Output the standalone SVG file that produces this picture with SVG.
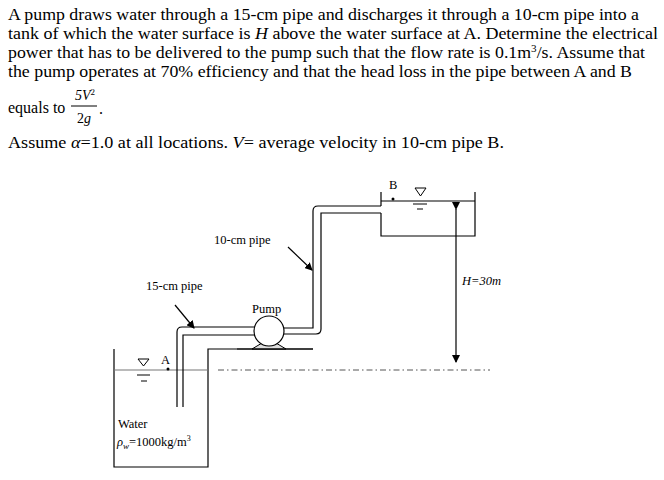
<svg xmlns="http://www.w3.org/2000/svg" width="664" height="480" viewBox="0 0 664 480">
<style>
text,tspan{font-family:"Liberation Serif","Times New Roman",serif;fill:#000}
.t{font-size:16px}
.s{font-size:12.5px}
.l{fill:none;stroke:#000;stroke-width:1.2}
.g{fill:none;stroke:#777;stroke-width:1.2}
</style>
<defs>
<marker id="ah" markerWidth="8" markerHeight="8" refX="7" refY="4" orient="auto" markerUnits="userSpaceOnUse"><path d="M0,0 L8,4 L0,8 z"/></marker>
</defs>
<rect width="664" height="480" fill="#fff"/>
<g id="problem">
<text class="t" x="8" y="20" textLength="631" lengthAdjust="spacingAndGlyphs">A pump draws water through a 15-cm pipe and discharges it through a 10-cm pipe into a</text>
<text class="t" x="8" y="39" textLength="650" lengthAdjust="spacingAndGlyphs">tank of which the water surface is <tspan font-style="italic">H</tspan> above the water surface at A.  Determine the electrical</text>
<text class="t" x="8" y="58" textLength="637" lengthAdjust="spacingAndGlyphs">power that has to be delivered to the pump such that the flow rate is 0.1m<tspan font-size="10" dy="-6">3</tspan><tspan dy="6">/s. Assume that</tspan></text>
<text class="t" x="8" y="77" textLength="624" lengthAdjust="spacingAndGlyphs">the pump operates at 70% efficiency and that the head loss in the pipe between A and B</text>
<text class="t" x="8" y="113">equals to</text>
<text x="75" y="100" style="font-size:14px;font-style:italic">5V<tspan style="font-size:9px;font-style:normal" dy="-5">2</tspan></text>
<line x1="71" y1="106" x2="97" y2="106" stroke="#000" stroke-width="1"/>
<text x="77" y="123" style="font-size:14px">2<tspan style="font-style:italic">g</tspan></text>
<text class="t" x="99" y="114">.</text>
<text class="t" x="8" y="148" textLength="496" lengthAdjust="spacingAndGlyphs">Assume <tspan font-style="italic">α</tspan>=1.0 at all locations. <tspan font-style="italic">V</tspan>= average velocity in 10-cm pipe B.</text>
</g>
<g id="lower-tank">
<path class="l" d="M114,349 V467 H208 V349 H313"/>
<line class="g" x1="114" y1="370" x2="208" y2="370"/>
<path d="M138,359 h11 l-5.5,7 z" fill="none" stroke="#000"/>
<line x1="137" y1="375" x2="150" y2="375" stroke="#000"/>
<line x1="141" y1="381" x2="147" y2="381" stroke="#000"/>
<circle cx="168" cy="369" r="1.5"/>
<text class="s" x="161" y="364">A</text>
<text class="s" x="118" y="428">Water</text>
<text class="s" x="117" y="446"><tspan font-style="italic">ρ</tspan><tspan font-size="9" dy="3" font-style="italic">w</tspan><tspan dy="-3">=1000kg/m</tspan><tspan font-size="8" dy="-5">3</tspan></text>
</g>
<g id="upper-tank">
<path class="l" d="M381,192 V206 M381,213 V236 H475 V192"/>
<line class="l" x1="381" y1="201" x2="475" y2="201"/>
<path d="M415,188 h11 l-5.5,8 z" fill="none" stroke="#000"/>
<line x1="413" y1="204" x2="427" y2="204" stroke="#000"/>
<line x1="417" y1="209" x2="423" y2="209" stroke="#000"/>
<circle cx="393" cy="199" r="1.5"/>
<text class="s" x="389" y="189">B</text>
</g>
<g id="pump">
<path d="M252,349 L262,343 L276,343 L286,349 z" fill="#ddd" stroke="#000" stroke-width="1"/>
<circle cx="269" cy="331" r="15" fill="#fff" stroke="#000" stroke-width="1.2"/>
<line class="l" x1="237" y1="349" x2="313" y2="349"/>
<text class="s" x="252" y="313">Pump</text>
</g>
<g id="connectors">
<path class="l" d="M177,407 V332 Q177,327 182,327 H254"/>
<path class="l" d="M183,407 V335 H254"/>
<path class="l" d="M284,328 H313 V211 Q313,206 318,206 H381"/>
<path class="l" d="M284,334 H316 Q321,334 321,329 V213 H381"/>
<line class="l" x1="456" y1="209" x2="456" y2="362" marker-start="url(#ah)" marker-end="url(#ah)"/>
<line x1="218" y1="370" x2="490" y2="370" stroke="#555" stroke-width="1" stroke-dasharray="6,3,1.5,3"/>
<line class="l" x1="175" y1="305" x2="194" y2="328" marker-end="url(#ah)"/>
<line class="l" x1="288" y1="247" x2="312" y2="270" marker-end="url(#ah)"/>
<text class="s" x="214" y="244">10-cm pipe</text>
<text class="s" x="146" y="290">15-cm pipe</text>
<text class="s" x="462" y="285" font-style="italic">H=30m</text>
</g>
</svg>
